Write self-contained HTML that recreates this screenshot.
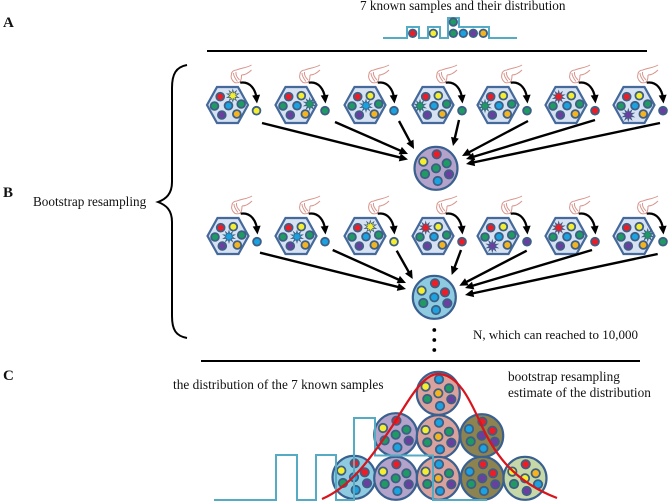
<!DOCTYPE html>
<html>
<head>
<meta charset="utf-8">
<style>
html,body{margin:0;padding:0;background:#fff;width:669px;height:503px;overflow:hidden}
svg{display:block}
text{font-family:"Liberation Serif",serif;fill:#111}
</style>
</head>
<body>
<svg id="s" width="669" height="503" viewBox="0 0 669 503" xmlns="http://www.w3.org/2000/svg">
<g id="shapes"></g>
<text x="3" y="27" font-size="15" font-weight="bold">A</text>
<text x="3" y="197" font-size="15" font-weight="bold">B</text>
<text x="3" y="380" font-size="15" font-weight="bold">C</text>
<text x="360" y="10" font-size="13.2">7 known samples and their distribution</text>
<text x="33" y="206" font-size="13.2">Bootstrap resampling</text>
<text x="473" y="339" font-size="13">N, which can reached to 10,000</text>
<text x="173" y="389" font-size="13.3">the distribution of the 7 known samples</text>
<text x="508" y="381" font-size="13.3">bootstrap resampling</text>
<text x="508" y="397" font-size="13.3">estimate of the distribution</text>
</svg>
<script>
var C={r:'#ee1c25',y:'#f5ee30',g:'#1e9a62',b:'#1aa3e0',p:'#6b3fa0',o:'#f5b41f'};
var DK='#3e5f85',out='';
function m(x,y,c,r){r=r||3.9;out+='<circle cx="'+x+'" cy="'+y+'" r="'+r+'" fill="'+C[c]+'" stroke="'+DK+'" stroke-width="1.8"/>';}
function star(x,y,c){var p=[];for(var i=0;i<20;i++){var a=i*Math.PI/10,R=i%2?2.9:6;p.push((x+R*Math.sin(a)).toFixed(1)+','+(y-R*Math.cos(a)).toFixed(1));}
 out+='<polygon points="'+p.join(' ')+'" fill="'+C[c]+'" stroke="'+DK+'" stroke-width=".7"/>';}
function arrow(x1,y1,x2,y2,w){w=w||2.4;var d=Math.hypot(x2-x1,y2-y1),u=(x2-x1)/d,v=(y2-y1)/d,L=8;
 out+='<line x1="'+x1+'" y1="'+y1+'" x2="'+(x2-u*L*.6)+'" y2="'+(y2-v*L*.6)+'" stroke="#000" stroke-width="'+w+'"/>';
 head(x2,y2,u,v);}
function head(x,y,u,v){var L=8.5,H=4;out+='<polygon points="'+x+','+y+' '+(x-u*L-v*H)+','+(y-v*L+u*H)+' '+(x-u*L+v*H)+','+(y-v*L-u*H)+'" fill="#000"/>';}
var HM={r:[-7.3,-8.3],y:[5.3,-9.3],gl:[-13,1],b:[1,.7],gr:[13.7,-1],p:[-5.7,10],o:[9.3,9]};
var HC={r:'r',y:'y',gl:'g',b:'b',gr:'g',p:'p',o:'o'};
function hex(cx,cy,st,sc,small){
 out+='<polygon points="'+(cx-20.5)+','+cy+' '+(cx-10.5)+','+(cy-18)+' '+(cx+10.5)+','+(cy-18)+' '+(cx+20.5)+','+cy+' '+(cx+10.5)+','+(cy+18)+' '+(cx-10.5)+','+(cy+18)+'" fill="#d6e2f2" stroke="#44699a" stroke-width="2.2"/>';
 for(var k in HM){var x=cx+HM[k][0],y=cy+HM[k][1];if(k==st)star(x,y,sc);else m(x,y,HC[k]);}
 out+='<g transform="translate('+cx+','+cy+')" fill="none" stroke="#d8948c" stroke-width="1"><path d="M9,-35 C13,-37 19,-37 24,-40 M14,-30 C18,-30 21,-32 24,-35 M9,-35 C6,-35 4,-33 4,-31 C3,-28 4,-25 7,-22.5 C9,-22 12,-22 13,-24 C14,-26 14,-28 14,-30 M6,-32 C6,-29 8,-26 10,-23.5 M8.500,-33 C8,-30 10,-27 12,-25"/></g>';
 out+='<path d="M'+(cx+12.7)+','+(cy-22.3)+' C'+(cx+23)+','+(cy-24)+' '+(cx+28)+','+(cy-15)+' '+(cx+29)+','+(cy-7)+'" fill="none" stroke="#000" stroke-width="2.2"/>';
 head(cx+29.5,cy-1.5,.1,.99);
 m(cx+29,cy+5.7,small,3.9);
}
var C1=[[.7,-14,0],[-12.7,-6.7,1],[10.7,-5,2],[0,0,3],[-11,5.7,4],[13,6,5],[1.7,12.7,6]];
function disc(cx,cy,fill,cs,r){r=r||21.5;
 out+='<circle cx="'+cx+'" cy="'+cy+'" r="'+r+'" fill="'+fill+'" stroke="#3a6090" stroke-width="2.2"/>';
 for(var i=0;i<7;i++)m(cx+C1[i][0],cy+C1[i][1],cs[i],4.2);}
var line='#56abc4';
function S(){
 out+='<path d="M383,38 H407 V27 H419 V38 H428 V27 H440 V38 H448 V18 H459 V27 H489 V38 H517" fill="none" stroke="'+line+'" stroke-width="2"/>';
 [[412.7,33.3,'r'],[433.3,33.3,'y'],[453.3,33.3,'g'],[463.3,33.3,'b'],[473.3,33.3,'p'],[483.3,33.3,'o'],[453.3,22,'g']].forEach(function(a){m(a[0],a[1],a[2],3.8);});
 out+='<line x1="207" y1="51" x2="647" y2="51" stroke="#000" stroke-width="2"/>';
 out+='<line x1="201" y1="361" x2="640" y2="361" stroke="#000" stroke-width="2"/>';
 out+='<path d="M187,65 C176,67 172,74 172,88 V182 C172,194 166,199 158,202 C166,205 172,210 172,222 V316 C172,330 176,336 187,338" fill="none" stroke="#000" stroke-width="2"/>';
 var xs=[227.500,296,365,433,498,566,634];
 var r1=[['y','y','y'],['gr','g','g'],['b','b','b'],['gl','g','g'],['gl','g','g'],['r','r','r'],['p','p','p']];
 xs.forEach(function(x,i){hex(x,105,r1[i][0],r1[i][1],r1[i][2]);});
 var r2=[['b','b','b'],['b','b','b'],['y','y','y'],['r','r','r'],['p','p','p'],['r','r','r'],['gr','g','g']];
 xs.forEach(function(x,i){hex(x+(i==0?.5:0),236,r2[i][0],r2[i][1],r2[i][2]);});
 [[262,123,408,159.500],[335,122,408,154],[399,121,414,149],[459,120,453,146],[528,121,462,156],[595,120,466,159],[660,123,466,164]].forEach(function(a){arrow(a[0],a[1],a[2],a[3]);});
 [[260,252.700,406,289],[332.700,250,406,283],[396.700,250.700,412.700,279],[461,250,451.700,275],[526.700,250.700,459.300,285.700],[592,250,465,288],[657.700,254,465,295]].forEach(function(a){arrow(a[0],a[1],a[2],a[3]);});
 var PUR=['r','y','g','g','g','p','b'],BLU=['r','y','r','b','g','p','b'],PNK=['b','y','g','o','g','p','b'],OLV=['r','b','r','p','g','p','b'],LGN=['r','y','o','y','g','b','p'];
 disc(436,168.300,'#b3a2c9',PUR);
 disc(434.300,297.300,'#8fcbe0',BLU);
 [330,340,350].forEach(function(y){out+='<circle cx="434.300" cy="'+y+'" r="1.9" fill="#000"/>';});
 disc(438.300,393.300,'#d9a29c',PNK);
 disc(395.700,434.700,'#b3a2c9',PUR);
 disc(438.300,436.700,'#d9a29c',PNK);
 disc(481.700,435.700,'#8d8350',OLV);
 disc(354,477.300,'#8fcbe0',BLU);
 disc(395.700,478.300,'#b3a2c9',PUR);
 disc(438.300,478.300,'#d9a29c',PNK);
 disc(482.300,478.300,'#8d8350',OLV);
 disc(525,478.300,'#c6d8a8',LGN);
 out+='<path d="M214,500 H276 V455 H297 V500 H316 V455 H336 V500 H354 V418 H375 V455.500 H433 V500 H487" fill="none" stroke="'+line+'" stroke-width="2"/>';
 out+='<path d="M322,499 C350,487 370,460 395,422 C410,397 424,374 438,374 C458,374 470,400 480,422 C492,449 510,480 557,498" fill="none" stroke="#d8141c" stroke-width="2.2"/>';
}
S();
document.getElementById('shapes').innerHTML=out;
</script>
</body>
</html>
